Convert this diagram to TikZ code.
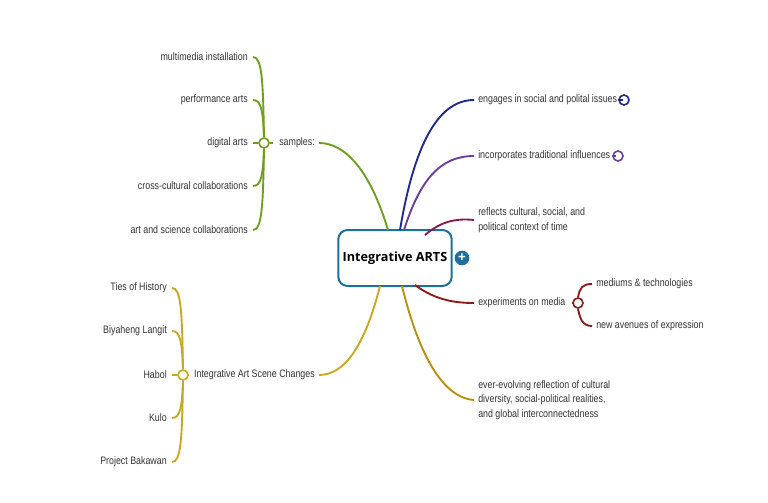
\documentclass[tikz,border=0pt]{standalone}
\usepackage{fontspec}
\setmainfont{Liberation Sans}
\newfontfamily\narrowf[FakeStretch=0.82]{Liberation Sans}
\newfontfamily\boldf{Open Sans}
\definecolor{cblue}{HTML}{1B2A8C}
\definecolor{cpurple}{HTML}{6A3D9A}
\definecolor{cmaroon}{HTML}{8E1A4A}
\definecolor{cred}{HTML}{8B1A1A}
\definecolor{cgold}{HTML}{B8900F}
\definecolor{cgreen}{HTML}{6E9E1E}
\definecolor{cyel}{HTML}{C9A820}
\definecolor{cbox}{HTML}{1E6E9E}
\begin{document}
\begin{tikzpicture}[x=0.75pt,y=-0.75pt,
  lbl/.style={font=\narrowf\fontsize{8.1}{11}\selectfont,text=black!80,inner ysep=0pt,inner xsep=3pt},
  lr/.style={lbl,anchor=west,align=left},
  ll/.style={lbl,anchor=east,align=right},
  br/.style={line width=1.4pt},
  hub/.style={circle,draw,line width=1.2pt,fill=white,minimum size=7.5pt,inner sep=0pt}]
\fill[white] (0,0) rectangle (768,503);
\node[draw=cbox,line width=1.5pt,rounded corners=7pt,minimum width=82pt,minimum height=42pt,font=\boldf\bfseries\fontsize{9.5}{11}\selectfont] (c) at (395,258) {Integrative ARTS};
\node[circle,fill=cbox,text=white,minimum size=11pt,inner sep=0pt,font=\bfseries\fontsize{10}{10}\selectfont] (plus) at (462,258) {+};
% right
\node[lr] (e1) at (474,100) {engages in social and polital issues};
\node[hub,draw=cblue] (h1) at (624,100) {};
\draw[cblue,br] (400,230) .. controls (415,140) and (440,100) .. (e1.west);
\draw[cblue,br] (e1.east)++(2,0) -- (h1);
\node[lr] (e2) at (474,156) {incorporates traditional influences};
\node[hub,draw=cpurple] (h2) at (618,156) {};
\draw[cpurple,br] (404,230) .. controls (420,180) and (440,156) .. (e2.west);
\draw[cpurple,br] (e2.east)++(2,0) -- (h2);
\node[lr] (e3) at (474,220) {reflects cultural, social, and\\political context of time};
\draw[cmaroon,br] (425,235) .. controls (440,222) and (455,218) .. (e3.west);
\node[lr] (e4) at (474,303) {experiments on media};
\draw[cred,br] (415,285) .. controls (435,300) and (455,303) .. (e4.west);
\node[hub,draw=cred] (h4) at (578,303) {};
\draw[cred,br] (e4.east)++(2,0) -- (h4);
\node[lr] (m1) at (592,284) {mediums \& technologies};
\node[lr] (m2) at (592,326) {new avenues of expression};
\draw[cred,br] (h4.north) .. controls (580,288) and (582,284) .. (m1.west);
\draw[cred,br] (h4.south) .. controls (580,318) and (582,326) .. (m2.west);
\node[lr] (e5) at (474,400) {ever-evolving reflection of cultural\\diversity, social-political realities,\\and global interconnectedness};
\draw[cgold,br] (402,286) .. controls (420,360) and (445,398) .. (e5.west);
% green
\node[ll] (s) at (319,143) {samples:};
\node[hub,draw=cgreen] (hs) at (264,143) {};
\draw[cgreen,br] (388,230) .. controls (370,170) and (345,143) .. (s.east);
\draw[cgreen,br] (s.west)++(-2,0) -- (hs);
\foreach \n/\y/\t in {g1/57/multimedia installation,g2/100/performance arts,g3/143/digital arts,g4/186/cross-cultural collaborations,g5/230/art and science collaborations}{
  \node[ll] (\n) at (252,\y) {\t};
}
\draw[cgreen,br] (hs.north) .. controls (263,80) and (262,57) .. (253,57);
\draw[cgreen,br] (hs.north) .. controls (263,110) and (261,100) .. (253,100);
\draw[cgreen,br] (hs.west) -- (253,143);
\draw[cgreen,br] (hs.south) .. controls (263,176) and (261,186) .. (253,186);
\draw[cgreen,br] (hs.south) .. controls (263,206) and (262,230) .. (253,230);
% yellow
\node[ll] (y) at (319,375) {Integrative Art Scene Changes};
\node[hub,draw=cyel] (hy) at (183,375) {};
\draw[cyel,br] (380,286) .. controls (365,345) and (345,375) .. (y.east);
\draw[cyel,br] (y.west)++(-2,0) -- (hy);
\foreach \n/\y/\t in {y1/288/Ties of History,y2/331/Biyaheng Langit,y3/375/Habol,y4/418/Kulo,y5/462/Project Bakawan}{
  \node[ll] (\n) at (171,\y) {\t};
}
\draw[cyel,br] (hy.north) .. controls (182,310) and (181,288) .. (172,288);
\draw[cyel,br] (hy.north) .. controls (182,341) and (180,331) .. (172,331);
\draw[cyel,br] (hy.west) -- (172,375);
\draw[cyel,br] (hy.south) .. controls (182,408) and (180,418) .. (172,418);
\draw[cyel,br] (hy.south) .. controls (182,440) and (181,462) .. (172,462);
\end{tikzpicture}
\end{document}
